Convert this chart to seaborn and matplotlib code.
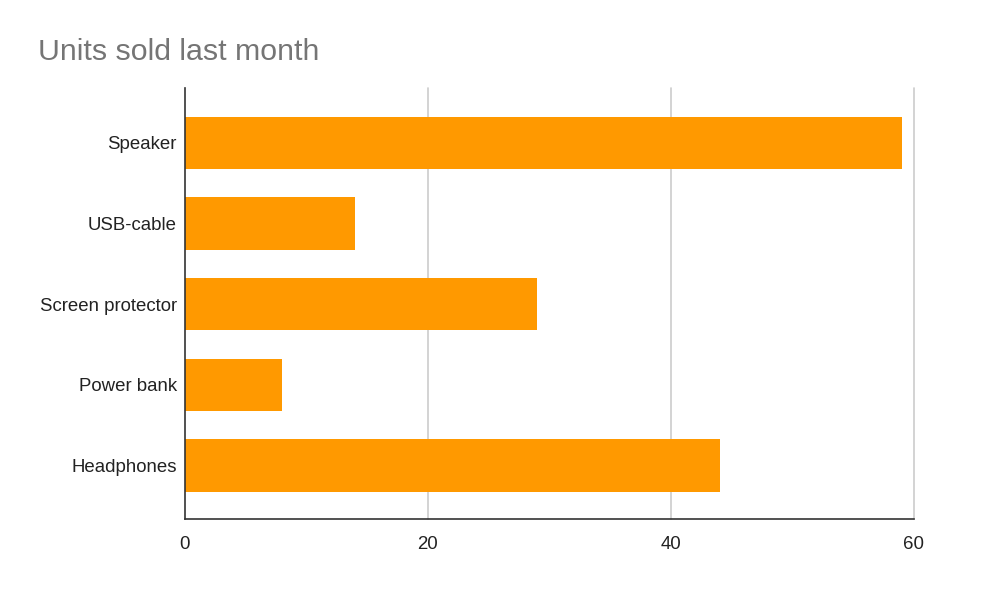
import matplotlib
matplotlib.use("Agg")
import matplotlib.pyplot as plt
import seaborn as sns
import pandas as pd

# data
products = ["Speaker", "USB-cable", "Screen protector", "Power bank", "Headphones"]
units = [59, 14, 29, 8, 44]

df = pd.DataFrame({"product": products, "units": units})

sns.set_style("white")
plt.rcParams["font.family"] = ["Liberation Sans", "DejaVu Sans"]

fig = plt.figure(figsize=(9.87, 6.06), dpi=100)
ax = fig.add_axes([0.1874, 0.1436, 0.7386, 0.7114])

sns.barplot(data=df, x="units", y="product", color="#ff9900", saturation=1,
            width=0.65, linewidth=0, ax=ax, zorder=3)

ax.set_xlim(0, 60)
ax.set_ylim(4.66, -0.68)
ax.set_xticks([0, 20, 40, 60])
for v in [20, 40, 60]:
    ax.axvline(v, color="#cccccc", linewidth=1.2, zorder=0, clip_on=False)
ax.set_xlabel("")
ax.set_ylabel("")
for s in ["top", "right"]:
    ax.spines[s].set_visible(False)
for s in ["left", "bottom"]:
    ax.spines[s].set_color("#333333")
    ax.spines[s].set_linewidth(1.2)
    ax.spines[s].set_zorder(5)
ax.tick_params(axis="y", length=0, labelsize=13.4, colors="#222222", pad=6)
ax.tick_params(axis="x", length=0, labelsize=13.4, colors="#222222", pad=12)

fig.text(0.038, 0.915, "Units sold last month", fontsize=21.8, color="#757575",
         ha="left", va="center")

fig.savefig("out.png", dpi=100)
